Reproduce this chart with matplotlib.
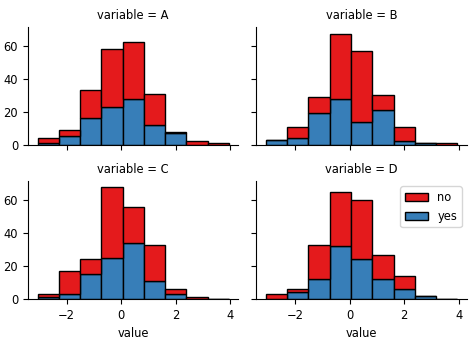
import numpy as np
import matplotlib
matplotlib.use('Agg')
import matplotlib.pyplot as plt

# shared bin edges
EDGES = [-3.07, -2.29, -1.51, -0.73, 0.05, 0.83, 1.61, 2.39, 3.17, 3.95]
PANELS = ['A', 'B', 'C', 'D']

# counts per bin
YES = {
    'A': [1, 5, 16, 23, 28, 12, 7, 0, 0],
    'B': [3, 4, 19, 28, 14, 21, 2, 1, 0],
    'C': [1, 3, 15, 25, 34, 11, 3, 0, 0],
    'D': [0, 4, 12, 32, 24, 12, 6, 2, 0],
}
TOTAL = {
    'A': [4, 9, 33, 58, 62, 31, 8, 2, 1],
    'B': [3, 11, 29, 67, 57, 30, 11, 1, 1],
    'C': [3, 17, 24, 68, 56, 33, 6, 1, 0],
    'D': [3, 6, 33, 65, 60, 27, 14, 2, 0],
}
COLORS = {'no': '#e41a1c', 'yes': '#377eb8'}
FS = 8.3

fig, axes = plt.subplots(2, 2, figsize=(4.74, 3.41), dpi=100,
                         sharex=True, sharey=True)
fig.subplots_adjust(left=0.059, right=0.985, bottom=0.123, top=0.921,
                    wspace=0.085, hspace=0.31)

edges = np.array(EDGES)
lefts = edges[:-1]
widths = np.diff(edges)
for ax, p in zip(axes.flat, PANELS):
    yes = np.array(YES[p])
    no = np.array(TOTAL[p]) - yes
    ax.bar(lefts, yes, width=widths, align='edge', color=COLORS['yes'],
           edgecolor='black', lw=1, label='yes')
    ax.bar(lefts, no, width=widths, bottom=yes, align='edge',
           color=COLORS['no'], edgecolor='black', lw=1, label='no')
    ax.set_title(f'variable = {p}', fontsize=FS)
    for s in ['top', 'right']:
        ax.spines[s].set_visible(False)
    ax.tick_params(labelsize=FS)

ax = axes[0, 0]
ax.set_ylim(0, 71.4)
ax.set_xlim(edges[0] - 0.35, edges[-1] + 0.35)
ax.set_xticks([-2, 0, 2, 4])
ax.set_yticks([0, 20, 40, 60])
for a in axes[1]:
    a.set_xlabel('value', fontsize=FS)

h, l = axes[1, 1].get_legend_handles_labels()
axes[1, 1].legend(h[::-1], l[::-1], loc='upper right', fontsize=FS,
                  borderaxespad=0.45)

fig.savefig('out.png', dpi=100)
